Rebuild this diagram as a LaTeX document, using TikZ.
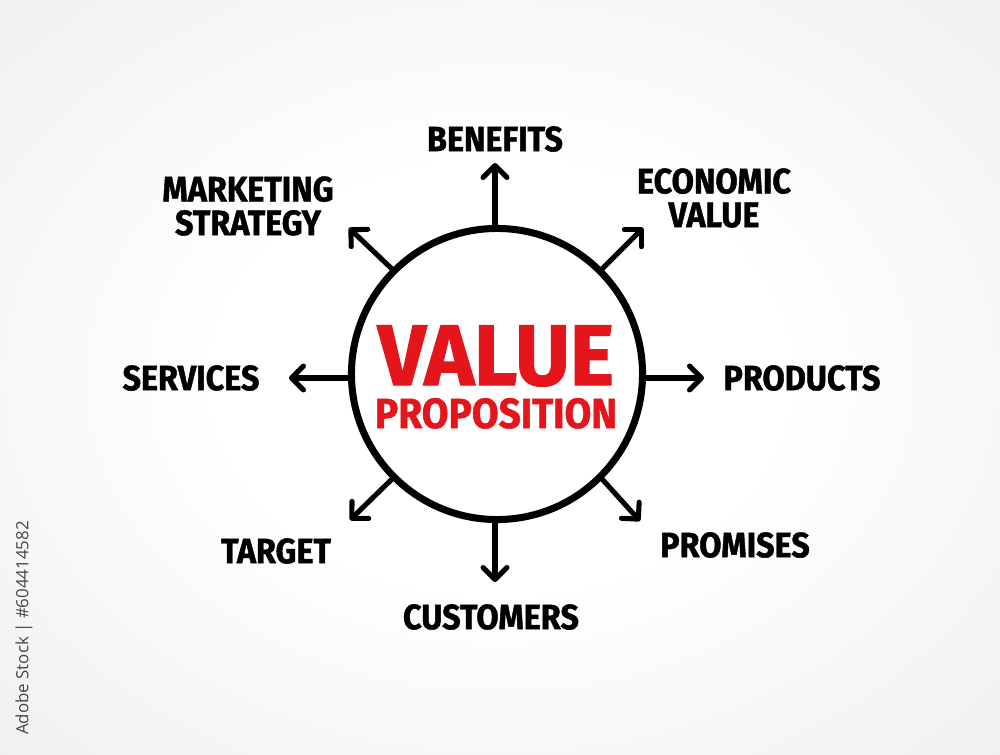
\documentclass[tikz,border=0pt]{standalone}
\usepackage{fontspec}
\setmainfont{Fira Sans}
\newfontfamily\hand{Fira Sans}[FakeStretch=0.92,FakeBold=1.2]
\newfontfamily\handwide{Fira Sans}[FakeStretch=0.98,FakeBold=1.5]
\newfontfamily\wmfont{Open Sans}
\usetikzlibrary{arrows.meta}
\definecolor{vpred}{RGB}{228,22,28}
\pgfdeclareradialshading{bgshade}{\pgfpoint{0bp}{0bp}}{color(0bp)=(white); color(14bp)=(white); color(40bp)=(black!7); color(50bp)=(black!11); color(72bp)=(black!15)}
\begin{document}
\begin{tikzpicture}[x=0.025cm,y=-0.025cm,
  lbl/.style={font=\hand\bfseries\fontsize{25}{27}\selectfont, text=black, align=center, inner sep=0pt},
  spoke/.style={line width=3.6pt, line cap=round, -{Straight Barb[length=8.5pt,width=17pt,line cap=round,line join=round]}},
  ring/.style={circle, draw=black, line width=5pt, minimum size=207pt, inner sep=0pt},
  title/.style={text=vpred, inner sep=0pt, anchor=base, text depth=0pt}
]
\useasboundingbox (0,0) rectangle (1000,755);
\shade[shading=bgshade] (0,0) rectangle (1000,755);

% centre circle
\node[ring] (c) at (497,374) {};
\node[title, text height=43pt, font=\handwide\bfseries\fontsize{61}{61}\selectfont] (v) at (496,385) {VALUE};
\node[title, text height=21pt, font=\hand\bfseries\fontsize{30}{30}\selectfont] (p) at (496,428) {PROPOSITION};

% arrow tips
\coordinate (tN)  at (495,163);
\coordinate (tS)  at (495,582);
\coordinate (tE)  at (704,378);
\coordinate (tW)  at (289,378);
\coordinate (tNE) at (643,228);
\coordinate (tNW) at (349,228);
\coordinate (tSE) at (640,521);
\coordinate (tSW) at (350,520);

\draw[spoke] (c.north -| tN) -- (tN);
\draw[spoke] (c.south -| tS) -- (tS);
\draw[spoke] (c.east |- tE) -- (tE);
\draw[spoke] (c.west |- tW) -- (tW);
\draw[spoke] (c.45) -- (tNE);
\draw[spoke] (c.135) -- (tNW);
\draw[spoke] (c.-45) -- (tSE);
\draw[spoke] (c.-135) -- (tSW);

% labels
\node[lbl] (benefits) at (495,139) {BENEFITS};
\node[lbl] (marketing) at (248,206) {MARKETING\\[-3pt]STRATEGY};
\node[lbl] (economic) at (714,198) {ECONOMIC\\[-3pt]VALUE};
\node[lbl] (services) at (191,378) {SERVICES};
\node[lbl] (products) at (802,378) {PRODUCTS};
\node[lbl] (target) at (276,551) {TARGET};
\node[lbl] (promises) at (735,545) {PROMISES};
\node[lbl] (customers) at (491,617) {CUSTOMERS};

% side credit
\node[rotate=90, font=\wmfont\fontsize{12}{12}\selectfont, text=black!72, inner sep=0pt] (credit) at (24,628) {Adobe Stock | \#604414582};
\end{tikzpicture}
\end{document}
